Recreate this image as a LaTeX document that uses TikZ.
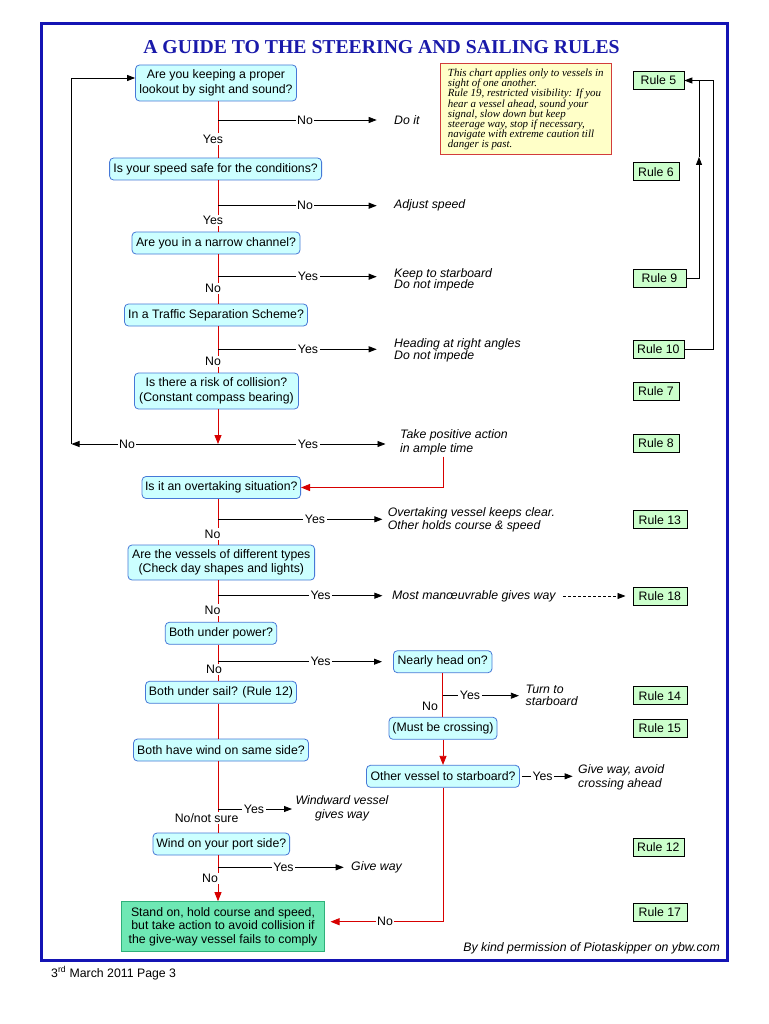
\documentclass[tikz,border=0pt]{standalone}
\usepackage{fontspec}
\setmainfont{Liberation Sans}
\newfontfamily\serifnote{Liberation Serif}
\usetikzlibrary{arrows.meta,calc}
\definecolor{qfill}{RGB}{204,255,255}
\definecolor{qdraw}{RGB}{70,120,215}
\definecolor{rfill}{RGB}{204,255,204}
\definecolor{ffill}{RGB}{110,232,180}
\definecolor{fdraw}{RGB}{47,176,122}
\definecolor{spred}{RGB}{215,0,0}
\definecolor{frameblue}{RGB}{20,20,180}
\definecolor{titleblue}{RGB}{25,25,170}
\definecolor{notefill}{RGB}{255,255,200}
\definecolor{notedraw}{RGB}{210,60,60}
\begin{document}
\begin{tikzpicture}[x=1pt,y=-1pt,
 q/.style={draw=qdraw, fill=qfill, rounded corners=4pt, line width=0.8pt, align=center, inner sep=2pt, minimum height=22pt, font=\fontsize{12.3}{14.5}\selectfont},
 rl/.style={draw=black, fill=rfill, line width=0.8pt, anchor=west, minimum height=18pt, inner sep=1pt, font=\fontsize{12.3}{14}\selectfont},
 lab/.style={fill=white, inner sep=1.5pt, font=\fontsize{12.3}{14}\selectfont},
 plainlab/.style={inner sep=1.5pt, font=\fontsize{12.3}{14}\selectfont},
 outc/.style={anchor=west, inner sep=0pt, align=left, font=\itshape\fontsize{12.3}{13}\selectfont},
 blk/.style={draw=black, line width=0.8pt},
 blkarrow/.style={blk, -{Triangle[length=8pt,width=6pt]}},
 redl/.style={draw=spred, line width=0.8pt},
 redarrow/.style={redl, -{Triangle[length=9pt,width=7pt]}},
]
\useasboundingbox (0,0) rectangle (768,1024);
\fill[white] (0,0) rectangle (768,1024);
\draw[frameblue, line width=3pt] (41.5,23.5) rectangle (727.5,960.5);

\node[font=\serifnote\bfseries\fontsize{19.7}{22}\selectfont, text=titleblue] (title) at (381.5,47) {A GUIDE TO THE STEERING AND SAILING RULES};

% note
\node[draw=notedraw, fill=notefill, line width=1pt, align=left, inner xsep=4pt, inner ysep=3pt, minimum width=170.5pt, minimum height=91pt, font=\serifnote\itshape\fontsize{10.9}{10.1}\selectfont] (note) at (525.75,109.5) {This chart applies only to vessels in\\sight of one another.\\Rule 19, restricted visibility: If you\\hear a vessel ahead, sound your\\signal, slow down but keep\\steerage way, stop if necessary,\\navigate with extreme caution till\\danger is past.};

\coordinate (sp) at (218,0);

% main questions
\node[q, minimum width=161pt, minimum height=36pt] (b1) at (216,83) {Are you keeping a proper\\lookout by sight and sound?};
\node[q, minimum width=212pt] (b2) at (215.6,169) {Is your speed safe for the conditions?};
\node[q, minimum width=168pt] (b3) at (216,243) {Are you in a narrow channel?};
\node[q, minimum width=183pt] (b4) at (216,315) {In a Traffic Separation Scheme?};
\node[q, minimum width=164pt, minimum height=36pt] (b5) at (216.5,391) {Is there a risk of collision?\\(Constant compass bearing)};
\node[q, minimum width=158.6pt] (b6) at (221.3,487.5) {Is it an overtaking situation?};
\node[q, minimum width=186.6pt, minimum height=35pt] (b7) at (221.3,562.5) {Are the vessels of different types\\(Check day shapes and lights)};
\node[q, minimum width=111.4pt] (b8) at (221,633.3) {Both under power?};
\node[q, minimum width=151pt] (b9) at (221,692.3) {Both under sail? (Rule 12)};
\node[q, minimum width=175pt] (b10) at (221,750) {Both have wind on same side?};
\node[q, minimum width=136.6pt] (b11) at (221.3,844) {Wind on your port side?};
\node[draw=fdraw, fill=ffill, line width=1pt, align=center, minimum width=203.4pt, minimum height=50pt, inner sep=2pt, font=\fontsize{12.3}{13.7}\selectfont] (fin) at (223,926.7) {Stand on, hold course and speed,\\but take action to avoid collision if\\the give-way vessel fails to comply};

\node[q, minimum width=98.6pt] (n1) at (442.7,661.7) {Nearly head on?};
\node[q, minimum width=108pt] (n2) at (443,728.3) {(Must be crossing)};
\node[q, minimum width=153pt] (n3) at (443,776.3) {Other vessel to starboard?};

% rules
\node[rl, minimum width=51pt] (r5) at (632.5,80.5) {Rule 5};
\node[rl, minimum width=46pt] (r6) at (632.5,171.7) {Rule 6};
\node[rl, minimum width=53pt] (r9) at (632.5,278.5) {Rule 9};
\node[rl, minimum width=51pt] (r10) at (632.5,349) {Rule 10};
\node[rl, minimum width=46pt] (r7) at (632.5,391) {Rule 7};
\node[rl, minimum width=46pt] (r8) at (632.5,443) {Rule 8};
\node[rl, minimum width=54pt] (r13) at (632.5,519.7) {Rule 13};
\node[rl, minimum width=54pt] (r18) at (632.5,596) {Rule 18};
\node[rl, minimum width=54pt] (r14) at (632.5,695.8) {Rule 14};
\node[rl, minimum width=54pt] (r15) at (632.5,728) {Rule 15};
\node[rl, minimum width=51pt] (r12) at (632.5,847) {Rule 12};
\node[rl, minimum width=54pt] (r17) at (632.5,912.5) {Rule 17};

% outcomes
\node[outc] (o1) at (394,120) {Do it};
\node[outc] (o2) at (394,205.7) {Adjust speed};
\node[outc, font=\itshape\fontsize{12.3}{11.7}\selectfont] (o3) at (394,279.7) {Keep to starboard\\Do not impede};
\node[outc, font=\itshape\fontsize{12.3}{11.7}\selectfont] (o4) at (394,350) {Heading at right angles\\Do not impede};
\node[outc, font=\itshape\fontsize{12.3}{13.3}\selectfont] (o5) at (400,442.3) {Take positive action\\in ample time};
\node[outc, font=\itshape\fontsize{12.3}{12.7}\selectfont] (o6) at (387.7,519.7) {Overtaking vessel keeps clear.\\Other holds course \& speed};
\node[outc] (o7) at (392,596) {Most manœuvrable gives way};
\node[outc, font=\itshape\fontsize{12.3}{11.7}\selectfont] (o8) at (525.5,695) {Turn to\\starboard};
\node[outc, font=\itshape\fontsize{12.3}{14}\selectfont] (o9) at (578,777) {Give way, avoid\\crossing ahead};
\node[outc, align=center, anchor=center, font=\itshape\fontsize{12.3}{14}\selectfont] (o10) at (342,808) {Windward vessel\\gives way};
\node[outc] (o11) at (351,867.3) {Give way};

% spine connectors
\draw[redl] (b1.south -| sp) -- (b2.north -| sp);
\draw[redl] (b2.south -| sp) -- (b3.north -| sp);
\draw[redl] (b3.south -| sp) -- (b4.north -| sp);
\draw[redl] (b4.south -| sp) -- (b5.north -| sp);
\draw[redl] (b6.south -| sp) -- (b7.north -| sp);
\draw[redl] (b7.south -| sp) -- (b8.north -| sp);
\draw[redl] (b8.south -| sp) -- (b9.north -| sp);
\draw[redl] (b9.south -| sp) -- (b10.north -| sp);
\draw[redl] (b10.south -| sp) -- (b11.north -| sp);
\draw[redarrow] (b11.south -| sp) -- (fin.north -| sp);

% branches
\coordinate (j1) at (218,120);   \coordinate (e1) at (376.7,120);
\coordinate (j2) at (218,205.7); \coordinate (e2) at (376.7,205.7);
\coordinate (j3) at (218,276.7); \coordinate (e3) at (376.7,276.7);
\coordinate (j4) at (218,349.3); \coordinate (e4) at (376.7,349.3);
\coordinate (j6) at (218,519.3); \coordinate (e6) at (382.4,519.3);
\coordinate (j7) at (218,595.7); \coordinate (e7) at (382.4,595.7);
\coordinate (j8) at (218,661.7);
\coordinate (j10) at (218,809);  \coordinate (e10) at (292,809);
\coordinate (j11) at (218,867.3); \coordinate (e11) at (343.7,867.3);
\draw[blkarrow] (j1) -- (e1);
\draw[blkarrow] (j2) -- (e2);
\draw[blkarrow] (j3) -- (e3);
\draw[blkarrow] (j4) -- (e4);
\draw[blkarrow] (j6) -- (e6);
\draw[blkarrow] (j7) -- (e7);
\draw[blkarrow, shorten >=11pt] (j8) -- (n1.west);
\draw[blkarrow] (j10) -- (e10);
\draw[blkarrow] (j11) -- (e11);

% collision junction and loop
\coordinate (lA) at (218,444);
\coordinate (lB) at (71.5,444);
\coordinate (lC) at (71.5,78);
\coordinate (lD) at (385.5,444);
\draw[redarrow] (b5.south -| sp) -- (lA);
\draw[blkarrow] (lA) -- (lB);
\draw[blkarrow] (lB) -- (lC) -- (lC -| b1.west);
\draw[blkarrow] (lA) -- (lD);
\coordinate (tp) at (443,456.5);
\draw[redarrow] (tp) |- (b6.east);

% dashed
\draw[blkarrow, dashed, dash pattern=on 3pt off 2pt, shorten >=7pt] ([xshift=7.5pt]o7.east) -- (r18.west);

% right column
\coordinate (j12) at (443,695.7); \coordinate (e12) at (518.9,695.7);
\draw[redl] (n1.south) -- (n1.south |- n2.north);
\draw[blkarrow] (j12) -- (e12);
\draw[redarrow] (n2.south) -- (n2.south |- n3.north);
\coordinate (e13) at (572.6,776.3);
\draw[blkarrow] ([xshift=2pt]n3.east) -- (e13);
\coordinate (finin) at (330.5,921.7);
\draw[redarrow] (n3.south) |- (finin);

% rule connectors
\coordinate (vx9) at (699,0);
\coordinate (vx10) at (713,0);
\coordinate (up9) at (699,157);
\draw[blkarrow] (r9.east) -| (up9);
\draw[blk] (up9) -- (vx9 |- r5.east);
\draw[blkarrow] (r10.east) -| (vx10 |- r5.east) -- (r5.east);

% labels
\node[lab] at (213,139) {Yes};
\node[lab] at (305,120) {No};
\node[lab] at (305,205.7) {No};
\node[lab] at (213,220.7) {Yes};
\node[lab] at (308,276.7) {Yes};
\node[lab] at (213,288.5) {No};
\node[lab] at (308,349.3) {Yes};
\node[lab] at (213,361.7) {No};
\node[lab] at (127,444) {No};
\node[lab] at (308,444) {Yes};
\node[lab] at (315,519.3) {Yes};
\node[lab] at (212.5,534) {No};
\node[lab] at (320.6,595.7) {Yes};
\node[lab] at (212.5,610) {No};
\node[lab] at (320.6,661.7) {Yes};
\node[lab] at (214,669.3) {No};
\node[lab] at (470,695.7) {Yes};
\node[plainlab] at (430,706.7) {No};
\node[lab] at (542.6,776.3) {Yes};
\node[lab] at (254,809) {Yes};
\node[lab] at (206.6,818.3) {No/not sure};
\node[lab] at (283.5,867.3) {Yes};
\node[lab] at (210,878.3) {No};
\node[lab] at (385,921.7) {No};

% footer
\node[anchor=east, inner sep=0pt, font=\itshape\fontsize{12.3}{14}\selectfont] (perm) at (720,948.3) {By kind permission of Piotaskipper on ybw.com};
\node[anchor=west, inner sep=0pt, font=\fontsize{12.3}{14}\selectfont] (date) at (51,973.3) {3\textsuperscript{rd} March 2011 Page 3};
\end{tikzpicture}
\end{document}
